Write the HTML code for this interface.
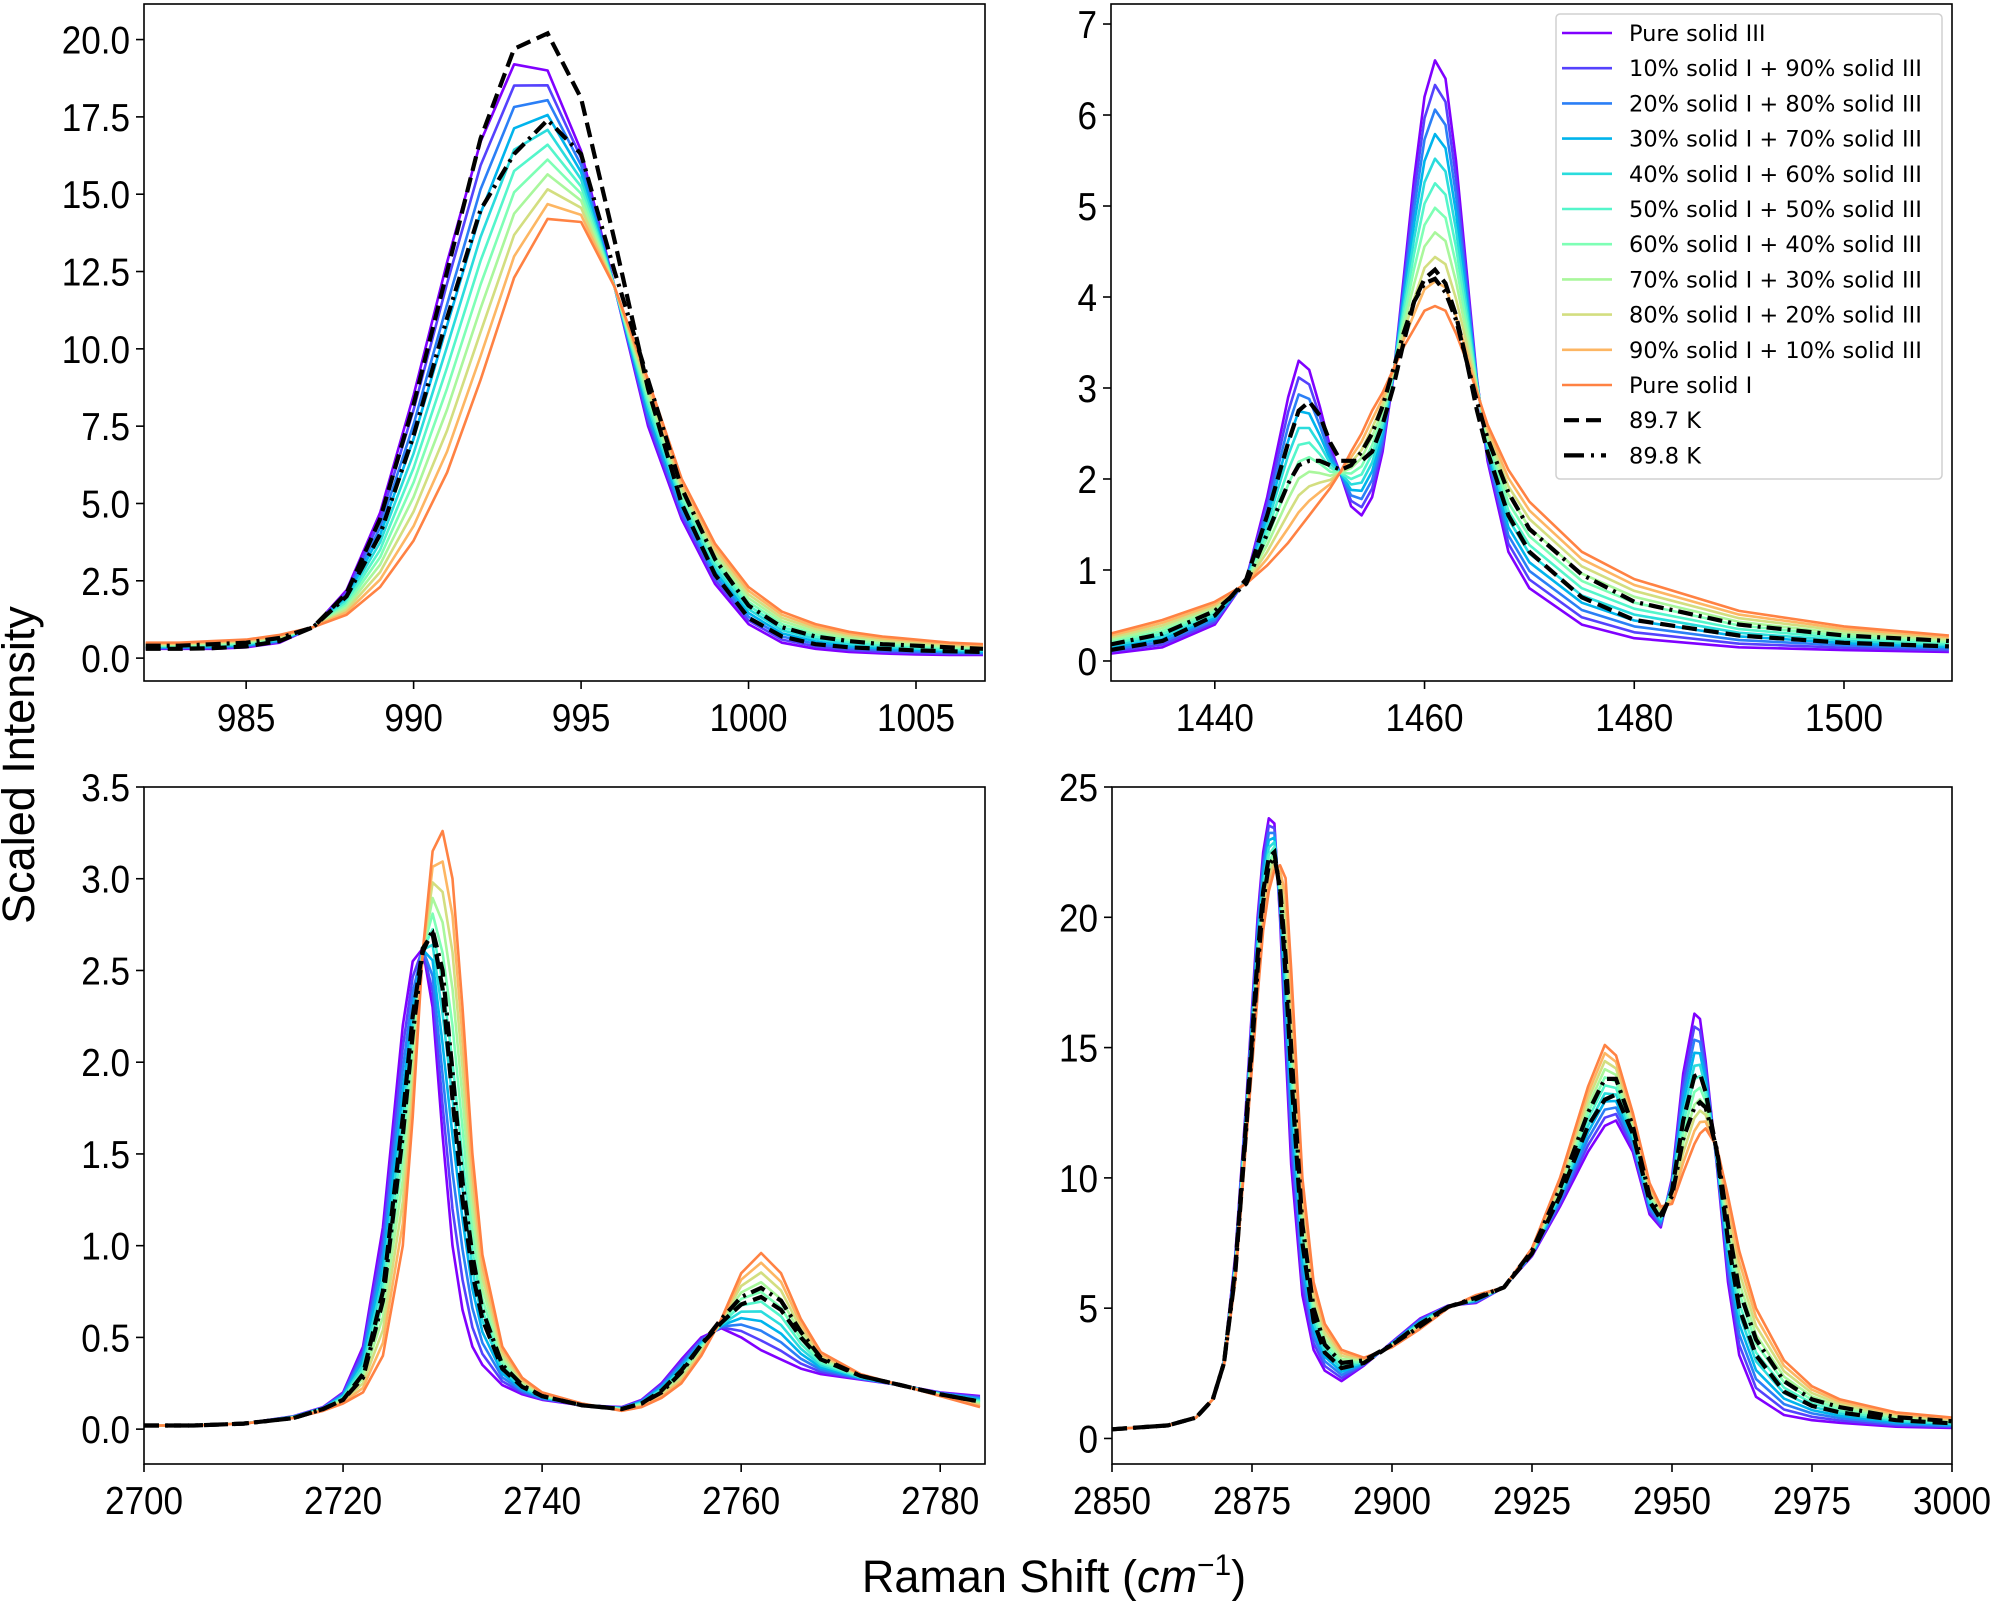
<!DOCTYPE html>
<html><head><meta charset="utf-8">
<style>
html,body{margin:0;padding:0;background:#fff;}
svg{display:block;}
text{font-family:"Liberation Sans","DejaVu Sans",sans-serif;fill:#000;}
.leg text{font-family:"DejaVu Sans","Liberation Sans",sans-serif;}
</style></head>
<body>
<svg id="fig" width="2000" height="1601" viewBox="0 0 2000 1601" xmlns="http://www.w3.org/2000/svg">
<text x="0" y="0" font-size="45" text-anchor="middle" transform="translate(34,765) rotate(-90)">Scaled Intensity</text>
<text x="1054" y="1592" font-size="45" text-anchor="middle">Raman Shift (<tspan font-style="italic">cm</tspan><tspan font-size="30" dy="-17">−1</tspan><tspan dy="17">)</tspan></text>
</svg>
<script>
// ---- Panel A (982-1007)
const xA = [982,983,984,985,986,987,988,989,990,991,992,993,994,995,996,997,998,999,1000,1001,1002,1003,1004,1005,1006,1007];
const solid3A = [0.3,0.3,0.3,0.35,0.5,1.0,2.2,4.7,8.5,12.8,16.7,19.2,19.0,16.4,12.0,7.5,4.5,2.4,1.1,0.5,0.3,0.2,0.15,0.12,0.1,0.1];
const solid1A = [0.5,0.5,0.55,0.6,0.75,1.0,1.4,2.3,3.8,6.0,9.0,12.3,14.2,14.1,12.0,9.0,5.8,3.7,2.3,1.5,1.1,0.85,0.7,0.6,0.5,0.45];
const k897A = [0.3,0.3,0.32,0.38,0.55,1.0,2.1,4.5,8.2,12.5,16.8,19.7,20.2,18.1,13.5,8.7,5.0,2.7,1.3,0.7,0.45,0.35,0.3,0.25,0.22,0.2];
const k898A = [0.4,0.4,0.45,0.5,0.65,1.0,2.0,4.0,7.2,11.0,14.5,16.3,17.4,16.3,12.5,9.0,5.5,3.2,1.7,1.0,0.7,0.55,0.45,0.4,0.35,0.3];
// ---- Panel B (1430-1510)
const xB = [1430,1435,1440,1443,1445,1447,1448,1449,1450,1451,1452,1453,1454,1455,1456,1457,1458,1459,1460,1461,1462,1463,1464,1465,1466,1468,1470,1475,1480,1490,1500,1510];
const solid3B = [0.08,0.15,0.4,0.9,1.8,2.9,3.3,3.2,2.8,2.35,2.05,1.7,1.6,1.8,2.3,3.1,4.2,5.3,6.2,6.6,6.4,5.5,4.3,3.1,2.2,1.2,0.8,0.4,0.25,0.15,0.12,0.1];
const solid1B = [0.3,0.45,0.65,0.85,1.05,1.3,1.45,1.6,1.75,1.9,2.08,2.3,2.5,2.75,2.95,3.2,3.45,3.65,3.85,3.9,3.85,3.6,3.3,2.95,2.6,2.1,1.75,1.2,0.9,0.55,0.38,0.28];
const k897B = [0.12,0.22,0.5,0.9,1.6,2.4,2.75,2.85,2.7,2.4,2.2,2.2,2.2,2.3,2.6,3.0,3.5,3.95,4.2,4.3,4.15,3.8,3.3,2.75,2.3,1.6,1.2,0.7,0.45,0.28,0.2,0.16];
const k898B = [0.18,0.3,0.55,0.85,1.4,1.95,2.15,2.2,2.2,2.15,2.1,2.15,2.3,2.5,2.8,3.2,3.6,3.95,4.15,4.2,4.05,3.75,3.3,2.85,2.45,1.85,1.45,0.95,0.65,0.4,0.28,0.22];
// ---- Panel C (2700-2784)
const xC = [2700,2705,2710,2715,2718,2720,2722,2724,2726,2727,2728,2729,2730,2731,2732,2733,2734,2736,2738,2740,2744,2748,2750,2752,2754,2756,2758,2760,2762,2764,2766,2768,2772,2776,2780,2784];
const solid3C = [0.02,0.02,0.03,0.07,0.12,0.2,0.45,1.1,2.2,2.55,2.62,2.3,1.6,1.0,0.65,0.45,0.35,0.24,0.19,0.16,0.13,0.12,0.16,0.25,0.38,0.5,0.55,0.5,0.43,0.38,0.33,0.3,0.27,0.24,0.2,0.18];
const solid1C = [0.02,0.02,0.03,0.06,0.1,0.14,0.2,0.4,1.0,1.7,2.6,3.15,3.26,3.0,2.3,1.5,0.95,0.45,0.28,0.2,0.14,0.1,0.12,0.17,0.25,0.4,0.6,0.85,0.96,0.85,0.6,0.42,0.3,0.24,0.18,0.12];
const k897C = [0.02,0.02,0.03,0.06,0.11,0.16,0.3,0.75,1.7,2.25,2.62,2.7,2.4,1.8,1.25,0.85,0.6,0.33,0.23,0.18,0.13,0.11,0.14,0.21,0.32,0.46,0.58,0.68,0.72,0.65,0.5,0.38,0.29,0.24,0.19,0.15];
const k898C = [0.02,0.02,0.03,0.06,0.11,0.16,0.28,0.7,1.6,2.15,2.6,2.72,2.5,1.95,1.35,0.95,0.65,0.35,0.24,0.18,0.13,0.11,0.14,0.2,0.31,0.46,0.6,0.72,0.77,0.7,0.53,0.39,0.29,0.24,0.19,0.15];
// ---- Panel D (2850-3000)
const xD = [2850,2860,2865,2868,2870,2872,2874,2876,2877,2878,2879,2880,2881,2882,2884,2886,2888,2891,2895,2900,2905,2910,2915,2920,2925,2930,2935,2938,2940,2943,2946,2948,2950,2952,2954,2955,2956,2958,2960,2962,2965,2970,2975,2980,2990,3000];
const solid3D = [0.35,0.5,0.8,1.5,3,7,13,20,22.5,23.8,23.6,20,15,10.5,5.5,3.4,2.6,2.2,2.8,3.7,4.6,5.1,5.2,5.8,7.0,8.9,11,12,12.2,11,8.6,8.1,10,14,16.3,16.1,14.5,10.5,6,3.2,1.6,0.9,0.7,0.6,0.45,0.4];
const solid1D = [0.35,0.5,0.8,1.5,2.8,6,11.5,17,19.5,21,21.8,22,21.5,18,10,6,4.4,3.4,3.1,3.5,4.2,5.0,5.5,5.8,7.3,10,13.5,15.1,14.7,12.5,9.8,8.9,9.0,10.2,11.3,11.7,11.9,11.2,9.3,7.2,5.0,3.0,2.0,1.5,1.0,0.8];
const k897D = [0.35,0.5,0.8,1.5,2.9,6.5,12.3,18.5,21,22.3,22.5,21,17.8,14,7.5,4.5,3.3,2.7,2.9,3.6,4.4,5.05,5.35,5.8,7.1,9.3,12,13,13.2,11.7,9.1,8.4,9.5,12.2,13.9,14.0,13.3,11,7.6,5.0,3.2,1.8,1.25,1.0,0.7,0.58];
const k898D = [0.35,0.5,0.8,1.5,2.9,6.3,12,18,20.6,22,22.3,21.2,18.5,15,8.2,5,3.6,2.9,3.0,3.6,4.3,5.05,5.4,5.8,7.2,9.6,12.5,13.8,13.8,12,9.3,8.6,9.3,11.5,12.7,12.9,12.7,11.1,8.2,5.7,3.8,2.2,1.5,1.2,0.82,0.66];

const legendLabels = ["Pure solid III","10% solid I + 90% solid III","20% solid I + 80% solid III","30% solid I + 70% solid III","40% solid I + 60% solid III","50% solid I + 50% solid III","60% solid I + 40% solid III","70% solid I + 30% solid III","80% solid I + 20% solid III","90% solid I + 10% solid III","Pure solid I","89.7 K","89.8 K"];
const fractionsI = [0,0.1,0.2,0.3,0.4,0.5,0.6,0.7,0.8,0.9,1.0];

const xTicksA=[985,990,995,1000,1005], yTicksA=[0,2.5,5,7.5,10,12.5,15,17.5,20];
const xTicksB=[1440,1460,1480,1500], yTicksB=[0,1,2,3,4,5,6,7];
const xTicksC=[2700,2720,2740,2760,2780], yTicksC=[0,0.5,1,1.5,2,2.5,3,3.5];
const xTicksD=[2850,2875,2900,2925,2950,2975,3000], yTicksD=[0,5,10,15,20,25];

const NS="http://www.w3.org/2000/svg";
const svg=document.getElementById('fig');
function mk(tag,attrs,parent){const e=document.createElementNS(NS,tag);for(const k in attrs)e.setAttribute(k,attrs[k]);(parent||svg).appendChild(e);return e;}
function rainbow(t){const r=Math.min(1,Math.abs(2*t-0.5)),g=Math.sin(Math.PI*t),b=Math.cos(Math.PI*t/2);
  return 'rgb('+Math.round(r*255)+','+Math.round(g*255)+','+Math.round(b*255)+')';}
const colors=fractionsI.map(f=>rainbow(f*0.83));

const panels=[
 {id:'a',L:144,R:985,T:4,B:681,x0:981.95,x1:1007.06,y0:-0.74,y1:21.15,xs:xA,s3:solid3A,s1:solid1A,k7:k897A,k8:k898A,xt:xTicksA,yt:yTicksA,fmt:v=>v.toFixed(1)},
 {id:'b',L:1111,R:1952,T:4,B:681,x0:1430.1,x1:1510.3,y0:-0.22,y1:7.22,xs:xB,s3:solid3B,s1:solid1B,k7:k897B,k8:k898B,xt:xTicksB,yt:yTicksB,fmt:v=>String(v)},
 {id:'c',L:144,R:985,T:787,B:1464,x0:2700,x1:2784.5,y0:-0.19,y1:3.5,xs:xC,s3:solid3C,s1:solid1C,k7:k897C,k8:k898C,xt:xTicksC,yt:yTicksC,fmt:v=>v.toFixed(1)},
 {id:'d',L:1112,R:1952,T:787,B:1464,x0:2850,x1:3000,y0:-0.98,y1:25,xs:xD,s3:solid3D,s1:solid1D,k7:k897D,k8:k898D,xt:xTicksD,yt:yTicksD,fmt:v=>String(v)}
];

panels.forEach(p=>{
  const sx=v=>p.L+(v-p.x0)/(p.x1-p.x0)*(p.R-p.L);
  const sy=v=>p.B-(v-p.y0)/(p.y1-p.y0)*(p.B-p.T);
  const g=mk('g',{});
  
  
  const cp=mk('clipPath',{id:'clip-'+p.id},g);
  mk('rect',{x:p.L,y:p.T,width:p.R-p.L,height:p.B-p.T},cp);
  const lines=mk('g',{'clip-path':'url(#clip-'+p.id+')'},g);
  const path=(ys)=>p.xs.map((x,i)=>(i?'L':'M')+sx(x).toFixed(1)+','+sy(ys[i]).toFixed(1)).join('');
  fractionsI.forEach((f,ci)=>{
    const ys=p.s3.map((v,i)=>v*(1-f)+p.s1[i]*f);
    const l=mk('path',{d:path(ys),fill:'none',stroke:colors[ci],'stroke-width':2.6,'stroke-linejoin':'round'},lines);
    
    
  });
  const d7=mk('path',{d:path(p.k7),fill:'none',stroke:'#000','stroke-width':4.2,'stroke-dasharray':'15,7'},lines);
  
  
  const d8=mk('path',{d:path(p.k8),fill:'none',stroke:'#000','stroke-width':4.2,'stroke-dasharray':'15,6,3,6'},lines);
  
  
  const fr=mk('rect',{x:p.L,y:p.T,width:p.R-p.L,height:p.B-p.T,fill:'none',stroke:'#000','stroke-width':1.6},g);
  
  
  p.xt.forEach(v=>{const x=sx(v);
    mk('line',{x1:x,x2:x,y1:p.B,y2:p.B+8,stroke:'#000','stroke-width':1.6},g);
    const t=mk('text',{x:0,y:0,'font-size':39,'text-anchor':'middle',transform:'translate('+x+','+(p.B+50)+') scale(0.9,1)'},g);t.textContent=String(v);
    
    });
  p.yt.forEach(v=>{const y=sy(v);
    mk('line',{x1:p.L-8,x2:p.L,y1:y,y2:y,stroke:'#000','stroke-width':1.6},g);
    const t=mk('text',{x:0,y:0,'font-size':39,'text-anchor':'end',transform:'translate('+(p.L-14)+','+(y+14)+') scale(0.9,1)'},g);t.textContent=p.fmt(v);
    
    });
});

// legend
const lg=mk('g',{class:'leg'});


mk('rect',{x:1556,y:14,width:386,height:465,rx:4,fill:'#fff','fill-opacity':0.85,stroke:'#d0d0d0','stroke-width':1.5},lg);
legendLabels.forEach((lab,i)=>{
  const y=33+i*35.2;
  const e=mk('g',{},lg);
  
  
  let attrs={x1:1562,x2:1612,y1:y,y2:y,'stroke-width':2.6,stroke:i<11?colors[i]:'#000'};
  if(i==11){attrs['stroke-width']=4.2;attrs['stroke-dasharray']='15,7';attrs.x1=1564;attrs.x2=1606;}
  if(i==12){attrs['stroke-width']=4.2;attrs['stroke-dasharray']='20,7,3,7';attrs.x1=1564;attrs.x2=1606;}
  mk('line',attrs,e);
  const t=mk('text',{x:1629,y:y+8,'font-size':22.5},e);t.textContent=lab;
});
</script>
</body></html>
